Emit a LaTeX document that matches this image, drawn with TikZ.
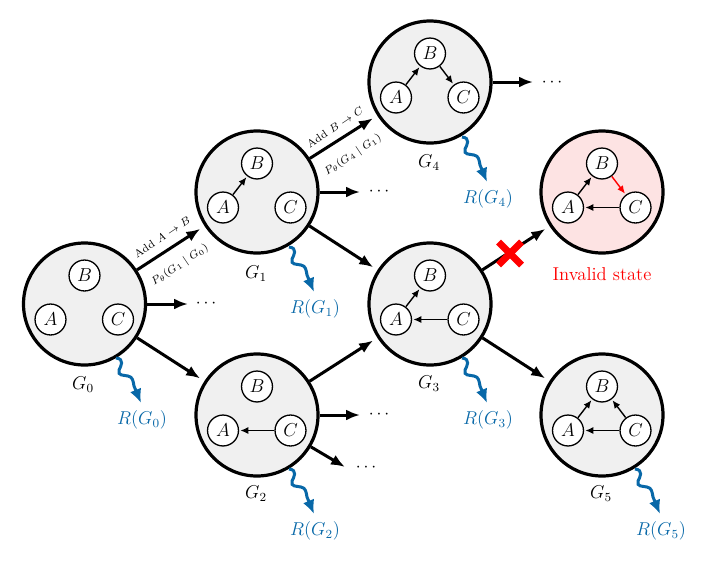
\documentclass[tikz,border=0pt]{standalone}
\usetikzlibrary{arrows.meta,calc}
\definecolor{rblue}{HTML}{0868A8}
\definecolor{stategray}{HTML}{F0F0F0}
\definecolor{statepink}{HTML}{FDE3E3}
\tikzset{
  state/.style={circle,draw=black,line width=3.2pt,fill=stategray,minimum size=122pt,inner sep=0pt},
  var/.style={circle,draw=black,line width=1.3pt,fill=white,minimum size=23.8pt,inner sep=0pt,font=\Large,scale=1.3},
  dep/.style={-{Latex[length=8pt,width=7pt]},line width=1.4pt,shorten >=1pt},
  flow/.style={-{Latex[length=14pt,width=11pt]},line width=3pt,shorten >=5pt},
  wav/.style={rblue,line width=3pt,-{Latex[length=14pt,width=12pt]}},
  capt/.style={font=\large,scale=1.55},
  rlab/.style={rblue,font=\large,scale=1.55},
  edgelab/.style={font=\scriptsize,inner sep=0pt,scale=1.55},
  dots/.style={scale=1.75},
  xarm/.style={red,line width=7pt},
}
\newcommand{\gstate}[4][state]{%
  \node[#1] (#2) at (#3,#4) {};
  \node[var] (#2a) at ($(#3,#4)+(-34,15.5)$) {$A$};
  \node[var] (#2b) at ($(#3,#4)+(0,-28.5)$) {$B$};
  \node[var] (#2c) at ($(#3,#4)+(33.5,15.5)$) {$C$};
}
\begin{document}
\begin{tikzpicture}[x=1pt,y=-1pt]
\useasboundingbox (0,0) rectangle (709,560);
\gstate{g0}{84.5}{304}
\gstate{g1}{257}{192}
\gstate{g2}{257}{415}
\gstate{g3}{430}{304}
\gstate{g4}{430}{82}
\gstate[state,fill=statepink]{g6}{602}{192}
\gstate{g5}{602}{415}

% inner edges
\draw[dep] (g1a) -- (g1b);
\draw[dep] (g2c) -- (g2a);
\draw[dep] (g3a) -- (g3b);
\draw[dep] (g3c) -- (g3a);
\draw[dep] (g4a) -- (g4b);
\draw[dep] (g4b) -- (g4c);
\draw[dep] (g6a) -- (g6b);
\draw[dep,red] (g6b) -- (g6c);
\draw[dep] (g6c) -- (g6a);
\draw[dep] (g5a) -- (g5b);
\draw[dep] (g5c) -- (g5b);
\draw[dep] (g5c) -- (g5a);

% transitions
\draw[flow] (g0) -- (g1);
\draw[flow] (g0) -- (g2);
\draw[flow] (g1) -- (g3);
\draw[flow] (g1) -- (g4);
\draw[flow] (g2) -- (g3);
\draw[flow] (g3) -- (g5);
\draw[flow] (g3) -- (g6);

% open transitions
\coordinate (d0) at (188,304);
\coordinate (d1) at (360,192);
\coordinate (d2) at (360,415);
\coordinate (d2b) at (345,467);
\coordinate (d4) at (533,82);
\draw[flow,shorten >=0pt] (g0) -- (d0);
\draw[flow,shorten >=0pt] (g1) -- (d1);
\draw[flow,shorten >=0pt] (g2) -- (d2);
\draw[flow,shorten >=0pt] (g2) -- (d2b);
\draw[flow,shorten >=0pt] (g4) -- (d4);
\node[dots] (t0) at (206,304) {$\cdots$};
\node[dots] (t1) at (379,192) {$\cdots$};
\node[dots] (t2) at (379,415) {$\cdots$};
\node[dots] (t2b) at (366,468) {$\cdots$};
\node[dots] (t4) at (552,83) {$\cdots$};

% edge labels
\node[edgelab,rotate=34] (l1) at (162,237) {Add $A\rightarrow B$};
\node[edgelab,rotate=34] (l2) at (180,265) {$P_\theta(G_1\mid G_0)$};
\node[edgelab,rotate=34] (l3) at (335,127) {Add $B\rightarrow C$};
\node[edgelab,rotate=34] (l4) at (353,155) {$P_\theta(G_4\mid G_1)$};

% captions
\node[capt] (c0) at (83,385) {$G_0$};
\node[capt] (c1) at (256,274) {$G_1$};
\node[capt] (c2) at (256,494) {$G_2$};
\node[capt] (c3) at (429,384) {$G_3$};
\node[capt] (c4) at (429,163) {$G_4$};
\node[capt] (c5) at (601,494) {$G_5$};
\node[capt,red] (c6) at (602,274) {Invalid state};

% rewards
\foreach \g/\x/\y in {0/116/358,1/289/247,2/289/469,3/462/358,4/462/137,5/635/469}{
  \coordinate (w\g) at (\x,\y);
  \coordinate (e\g) at (\x+25,\y+45);
  \draw[wav] (w\g) .. controls ($(w\g)+(9,1)$) and ($(w\g)+(5,8)$) .. ($(w\g)+(3,12)$)
    .. controls ($(w\g)+(1,18)$) and ($(w\g)+(8,17)$) .. ($(w\g)+(12,18)$)
    .. controls ($(w\g)+(17,19)$) and ($(w\g)+(17,23)$) .. ($(w\g)+(18,28)$) -- (e\g);
  \node[rlab] (r\g) at (\x+26,\y+62) {$R(G_\g)$};
}

% invalid mark
\coordinate (xm) at (510,253.5);
\draw[xarm] ($(xm)+(-11.5,-11.5)$) -- ($(xm)+(11.5,11.5)$);
\draw[xarm] ($(xm)+(-11.5,11.5)$) -- ($(xm)+(11.5,-11.5)$);
\end{tikzpicture}
\end{document}
